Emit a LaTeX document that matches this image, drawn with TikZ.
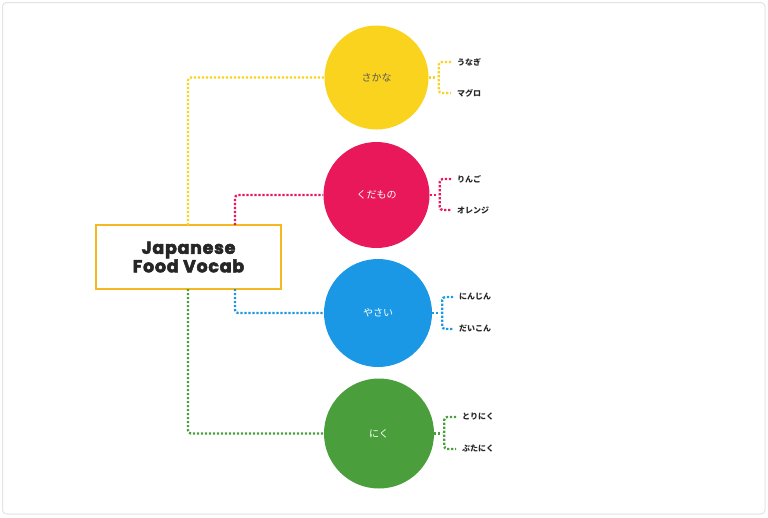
\documentclass[tikz,border=0pt]{standalone}
\usepackage{fontspec}
\newfontfamily\jp{Noto Sans CJK JP}
\newfontfamily\titlefont{Poppins}[BoldFeatures={FakeBold=3}, LetterSpace=4]
\definecolor{cyel}{HTML}{F9D31E}
\definecolor{cpink}{HTML}{E8185A}
\definecolor{cblue}{HTML}{1A98E6}
\definecolor{cgreen}{HTML}{4A9E3C}
\definecolor{cbox}{HTML}{F5B820}
\definecolor{cframe}{HTML}{E3E3E3}
\begin{document}
\begin{tikzpicture}[x=1pt,y=-1pt,
  dotline/.style={line width=2.3pt, dash pattern=on 2.2pt off 1.8pt, rounded corners=3pt},
  topic/.style={circle, minimum size=#1, inner sep=0pt, font=\jp\fontsize{10}{12}\selectfont},
  leaf/.style={anchor=west, inner sep=0pt, font=\jp\bfseries\fontsize{8}{10}\selectfont, text=black!85}]
\useasboundingbox (0,0) rectangle (768,517);
\draw[cframe, line width=1pt, rounded corners=4pt] (2.5,2.5) rectangle (765,514);
% central box
\node[draw=cbox, line width=2pt, minimum width=185pt, minimum height=64pt, inner sep=0pt,
  font=\titlefont\bfseries\fontsize{17.5}{18.5}\selectfont, align=center, text=black!85] (root) at (188.5,257) {\raisebox{-2.5pt}{Japanese}\\\raisebox{-2.5pt}{Food Vocab}};
% topics
\node[topic=104pt, fill=cyel, text=black!65] (fish) at (376.5,77.5) {さかな};
\node[topic=106pt, fill=cpink, text=white] (fruit) at (376.5,195) {くだもの};
\node[topic=108pt, fill=cblue, text=white] (veg) at (378,313) {やさい};
\node[topic=110pt, fill=cgreen, text=white] (meat) at (379,433.5) {にく};
% trunk connectors
\coordinate (r1) at (188,225);
\coordinate (r2) at (235,225);
\coordinate (r3) at (235,289);
\coordinate (r4) at (188,289);
\draw[dotline, cyel] (r1) |- (fish.west);
\draw[dotline, cpink] (r2) |- (fruit.west);
\draw[dotline, cblue] (r3) |- (veg.west);
\draw[dotline, cgreen] (r4) |- (meat.west);
% leaves
\node[leaf] (f1) at (457,62) {うなぎ};
\node[leaf] (f2) at (457,93) {マグロ};
\node[leaf] (p1) at (457,179) {りんご};
\node[leaf] (p2) at (457,210) {オレンジ};
\node[leaf] (v1) at (459,297) {にんじん};
\node[leaf] (v2) at (459,329) {だいこん};
\node[leaf] (m1) at (462,417) {とりにく};
\node[leaf] (m2) at (462,449) {ぶたにく};
% brackets
\newcommand\mybracket[6]{%
  \coordinate (#1b) at ([xshift=#3]#2.east);
  \draw[dotline, #6, rounded corners=0pt] (#2.east) -- (#1b);
  \draw[dotline, #6] ([xshift=-6pt]#4.west) -| ([xshift=2pt]#1b) |- ([xshift=-6pt]#5.west);
}
\mybracket{fish}{fish}{8pt}{f1}{f2}{cyel}
\mybracket{fruit}{fruit}{8pt}{p1}{p2}{cpink}
\mybracket{veg}{veg}{8pt}{v1}{v2}{cblue}
\mybracket{meat}{meat}{8pt}{m1}{m2}{cgreen}
\end{tikzpicture}
\end{document}
